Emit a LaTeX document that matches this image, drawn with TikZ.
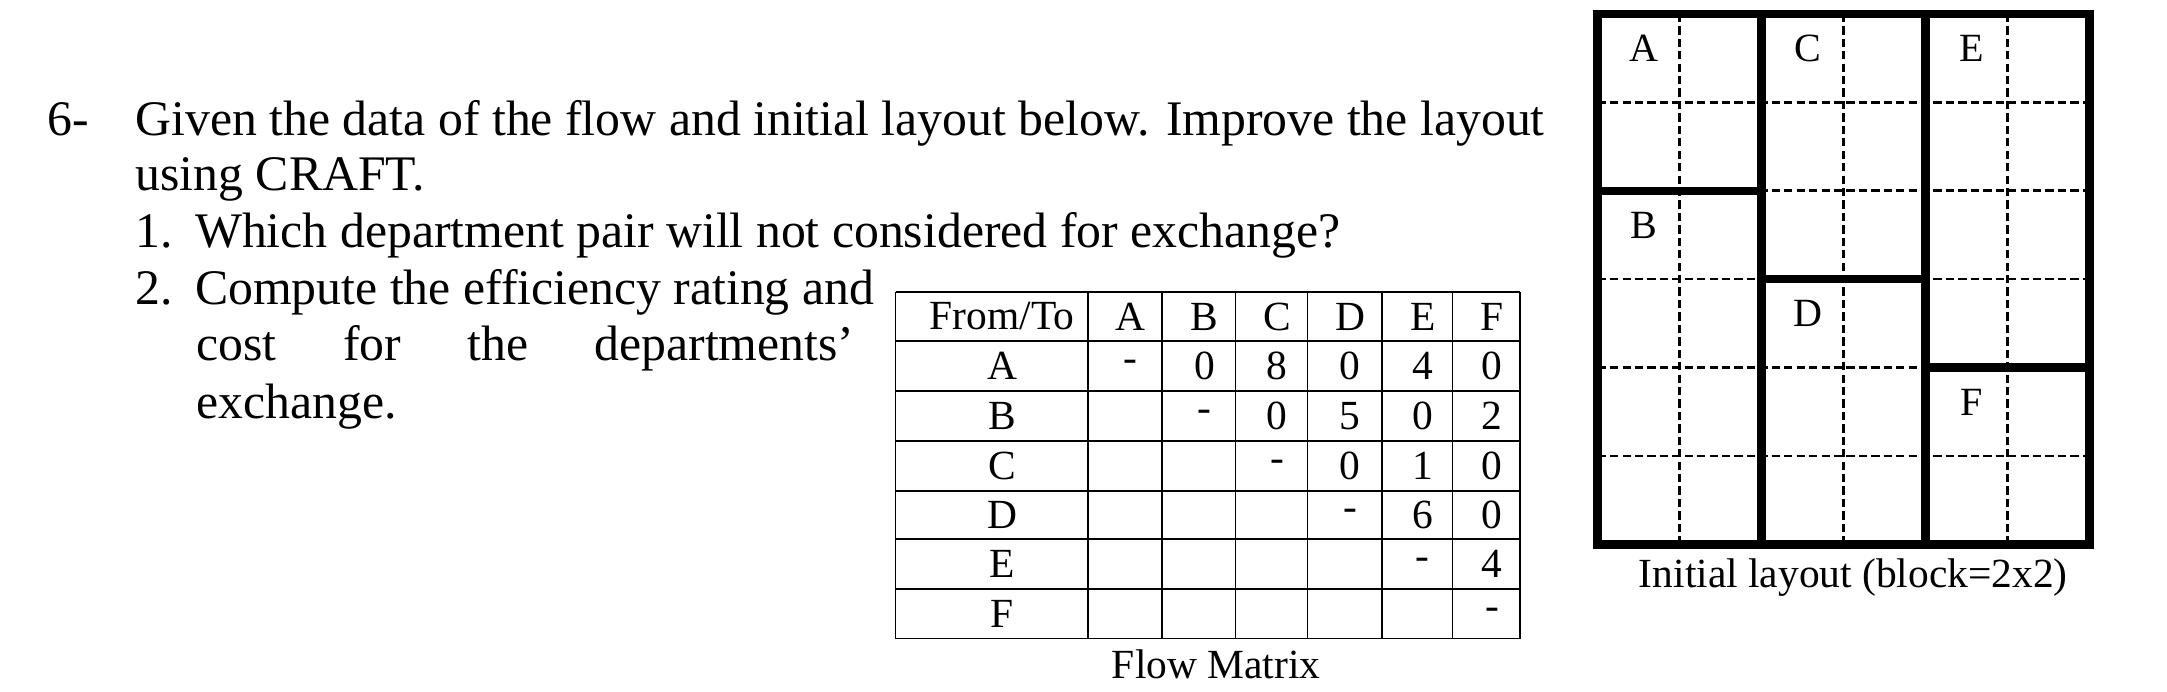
\documentclass[tikz,border=0pt]{standalone}
\usepackage{fontspec}
\setmainfont{Liberation Serif}
\begin{document}
\begin{tikzpicture}[x=1pt,y=-1pt,
  txt/.style={anchor=base west,inner sep=0,font=\fontsize{36}{40}\selectfont},
  cell/.style={inner sep=0,font=\fontsize{30}{34}\selectfont},
  thick line/.style={line width=6pt},
  dash line/.style={line width=1.8pt,dash pattern=on 6pt off 3pt}]
\useasboundingbox (0,0) rectangle (1568,500.7);
% question text
\node[txt] (n6) at (34,98) {6-};
\node[txt] (l1) at (98,98) {Given the data of the flow and initial layout below. Improve the layout};
\node[txt] (l2) at (98,138) {using CRAFT.};
\node[txt] (l3) at (98,179) {1.\hspace{16pt}Which department pair will not considered for exchange?};
\node[txt] (l4) at (98,220) {2.\hspace{16pt}Compute the efficiency rating and};
\node[txt] (l5) at (142,261) {\makebox[476pt][s]{cost\hfill for\hfill the\hfill departments’}};
\node[txt] (l6) at (142,303) {exchange.};
% table
\def\cx{{648,787,841,894,946,1000,1051,1100}}
\def\ry{{211,247,283,319,355,390,426,462}}
\foreach \i in {0,...,7}{
  \pgfmathsetmacro\xx{\cx[\i]}
  \pgfmathsetmacro\yy{\ry[\i]}
  \draw[line width=1.3pt] (\xx,211) -- (\xx,462);
  \draw[line width=1.3pt] (648,\yy) -- (1100,\yy);
}
\node[cell] (h0) at (725,229) {From/To};
\foreach \l [count=\j from 1] in {A,B,C,D,E,F}{
  \pgfmathsetmacro\xa{\cx[\j]}\pgfmathsetmacro\xb{\cx[\j+1]}
  \node[cell] (h\j) at ({(\xa+\xb)/2+4},229) {\l};
  \pgfmathsetmacro\ya{\ry[\j]}\pgfmathsetmacro\yb{\ry[\j+1]}
  \node[cell] (r\j) at (725,{(\ya+\yb)/2}) {\l};
}
\foreach \r/\c/\v in {1/1/-,1/2/0,1/3/8,1/4/0,1/5/4,1/6/0,
  2/2/-,2/3/0,2/4/5,2/5/0,2/6/2,
  3/3/-,3/4/0,3/5/1,3/6/0,
  4/4/-,4/5/6,4/6/0,
  5/5/-,5/6/4,
  6/6/-}{
  \pgfmathsetmacro\xa{\cx[\c]}\pgfmathsetmacro\xb{\cx[\c+1]}
  \pgfmathsetmacro\ya{\ry[\r]}\pgfmathsetmacro\yb{\ry[\r+1]}
  \node[cell] (v\r\c) at ({(\xa+\xb)/2+4},{(\ya+\yb)/2}) {\v};
}
\node[cell] (fm) at (880,481) {Flow Matrix};
% layout
\def\gx{59.33}\def\gy{64}
\foreach \k in {1,3,5}{\draw[dash line] ({1156+\k*\gx},10) -- ({1156+\k*\gx},394);}
\foreach \k in {1,...,5}{\draw[dash line] (1156,{10+\k*\gy}) -- (1512,{10+\k*\gy});}
\draw[thick line] (1156,10) rectangle (1512,394);
\draw[thick line] ({1156+2*\gx},10) -- ({1156+2*\gx},394);
\draw[thick line] ({1156+4*\gx},10) -- ({1156+4*\gx},394);
\draw[thick line] (1156,{10+2*\gy}) -- ({1156+2*\gx},{10+2*\gy});
\draw[thick line] ({1156+2*\gx},{10+3*\gy}) -- ({1156+4*\gx},{10+3*\gy});
\draw[thick line] ({1156+4*\gx},{10+4*\gy}) -- (1512,{10+4*\gy});
\foreach \l/\c/\r in {A/0/0,B/0/2,C/2/0,D/2/3,E/4/0,F/4/4}{
  \node[cell,font=\fontsize{29}{32}\selectfont] (d\l) at ({1156+\c*\gx+\gx/2+4},{10+\r*\gy+\gy/2-7}) {\l};
}
\node[cell] (cap) at (1341,418) {Initial layout (block=2x2)};
\end{tikzpicture}
\end{document}
